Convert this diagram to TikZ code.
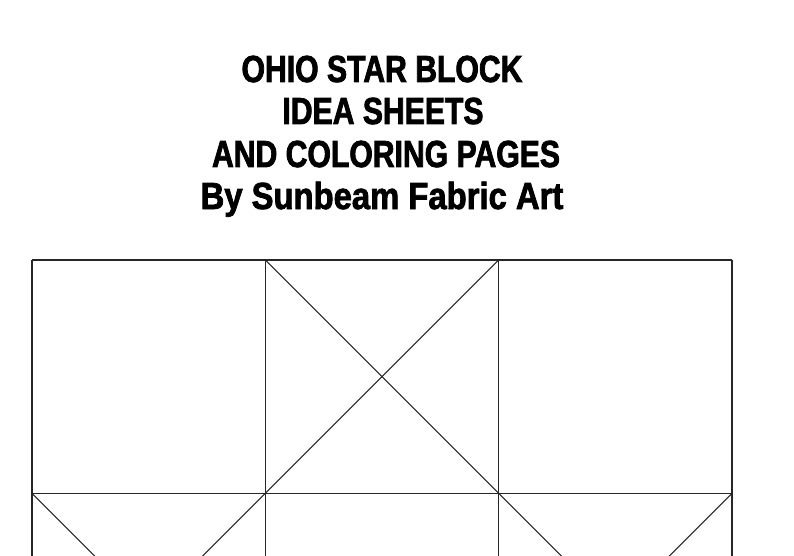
\documentclass[tikz,border=0pt]{standalone}
\usepackage{fontspec}
\newfontfamily\titlefont{Liberation Sans}[FakeStretch=0.8, FakeBold=2]
\newfontfamily\bylinefont{Liberation Sans}[FakeStretch=0.87, FakeBold=2]
\tikzset{>=stealth}

\begin{document}
\begin{tikzpicture}[x=1pt, y=-1pt,
    title/.style={font=\titlefont\bfseries\fontsize{37.7}{42}\selectfont, inner sep=0pt, anchor=base},
    byline/.style={title, font=\bylinefont\bfseries\fontsize{37.7}{42}\selectfont},
    patch/.style={line width=1.3pt, black!85},
    seam/.style={line width=1pt, black!85}]
    \useasboundingbox (0,0) rectangle (794,556);
    \clip (0,0) rectangle (794,556);
    % title
    \node [title] (line1) at (382,82) {OHIO STAR BLOCK};
    \node [title] (line2) at (383,124) {IDEA SHEETS};
    \node [title] (line3) at (386,167) {AND COLORING PAGES};
    \node [byline] (line4) at (382,209) {By Sunbeam Fabric Art};
    % block grid
    \foreach \i in {0,...,3} {
        \draw [patch] (32+\i*233.33,260) -- (32+\i*233.33,960);
        \draw [patch] (32,260+\i*233.33) -- (732,260+\i*233.33);
    }
    % quarter square triangles
    \foreach \c/\r in {1/0, 0/1, 2/1, 1/2} {
        \draw [seam] (32+\c*233.33,260+\r*233.33) -- ++(233.33,233.33);
        \draw [seam] (265.33+\c*233.33,260+\r*233.33) -- ++(-233.33,233.33);
    }
\end{tikzpicture}
\end{document}
